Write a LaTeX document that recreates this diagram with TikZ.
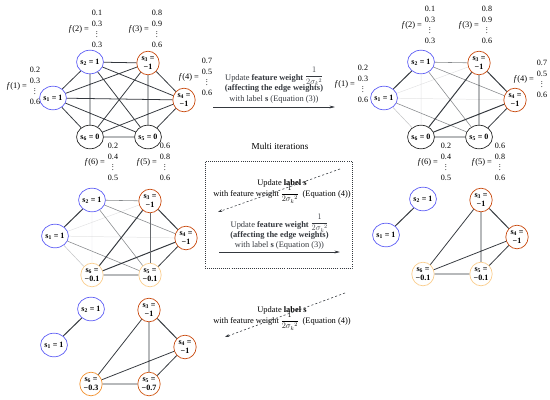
\documentclass[tikz,border=0pt]{standalone}
\usepackage{amsmath}
\usepackage{fontspec}
\setmainfont{Liberation Serif}
\usetikzlibrary{arrows.meta, positioning, shapes.geometric, fit}
\definecolor{stateblue}{RGB}{95, 95, 245}
\definecolor{stateorange}{RGB}{200, 72, 12}
\definecolor{statepeach}{RGB}{250, 205, 140}
\definecolor{stateamber}{RGB}{242, 145, 45}
\definecolor{staterust}{RGB}{208, 88, 20}
\definecolor{statedark}{RGB}{40, 40, 40}
\definecolor{edgegray}{RGB}{52, 56, 62}
\newcommand{\featw}{\smash{$\dfrac{1}{2{\sigma_k}^{2}}$}}
\newcommand{\featwup}{\raisebox{3pt}{\featw}}
\newcommand{\vdotsnum}{\vbox to 0.8em{\baselineskip=3.3pt\lineskiplimit=0pt\vss\hbox{.}\hbox{.}\hbox{.}}}

\begin{document}
\begin{tikzpicture}[
    x=0.05cm, y=-0.05cm,
    state/.style={ellipse, draw, line width=1pt, minimum width=1.12cm, minimum height=1.18cm,
        inner sep=0pt, align=center, font=\fontsize{11.5}{13}\selectfont\bfseries},
    stateA/.style={state, draw=stateblue},
    stateB/.style={state, draw=stateorange},
    stateC/.style={state, draw=statedark},
    stateD/.style={state, draw=statepeach},
    stateE/.style={state, draw=stateamber},
    stateF/.style={state, draw=staterust},
    fname/.style={font=\fontsize{12}{14}\selectfont, inner sep=1pt},
    fvals/.style={align=center, font=\fontsize{11.5}{15.5}\selectfont, inner sep=0pt},
    heavyedge/.style={line width=1.4pt, edgegray},
    darkedge/.style={line width=1.1pt, edgegray},
    midedge/.style={line width=0.8pt, edgegray!60},
    lightedge/.style={line width=0.7pt, edgegray!30},
    faintedge/.style={line width=0.7pt, edgegray!14},
    updtext/.style={align=center, font=\fontsize{12}{14.5}\selectfont},
    update/.style={line width=0.8pt, edgegray, -{Stealth[length=2.8mm, width=1.4mm]}},
    relabel/.style={line width=0.8pt, edgegray, dashed, -{Stealth[length=2.2mm, width=1.5mm]}},
    loopframe/.style={draw=edgegray, line width=0.9pt, dotted}
]
\useasboundingbox (0,0) rectangle (550,400);

% Initial graph
\begin{scope}
    \node[stateA] (a1) at (53,98) {s\textsubscript{1} = 1};
    \node[stateA] (a2) at (90,62) {s\textsubscript{2} = 1};
    \node[stateB] (a3) at (148,63) {s\textsubscript{3} =\\−1};
    \node[stateB] (a4) at (184,100) {s\textsubscript{4} =\\−1};
    \node[stateC] (a5) at (148,137) {s\textsubscript{5} = 0};
    \node[stateC] (a6) at (90,137) {s\textsubscript{6} = 0};

    \draw[darkedge] (a1) -- (a2) (a2) -- (a3) (a3) -- (a4) (a4) -- (a5) (a5) -- (a6) (a6) -- (a1);
    \draw[darkedge] (a1) -- (a3) (a1) -- (a4) (a1) -- (a5) (a2) -- (a4) (a2) -- (a5) (a2) -- (a6);
    \draw[darkedge] (a3) -- (a5) (a3) -- (a6) (a4) -- (a6);

    \node[fvals] (fa1) at (35,86) {0.2\\0.3\\\vdotsnum\\0.6};
    \node[fname, left=1mm of fa1] (la1) {\textit{f}(1) =};
    \node[fvals] (fa2) at (97,29) {0.1\\0.3\\\vdotsnum\\0.3};
    \node[fname, left=1mm of fa2] (la2) {\textit{f}(2) =};
    \node[fvals] (fa3) at (157,29) {0.8\\0.9\\\vdotsnum\\0.6};
    \node[fname, left=1mm of fa3] (la3) {\textit{f}(3) =};
    \node[fvals] (fa4) at (207,77) {0.7\\0.5\\\vdotsnum\\0.6};
    \node[fname, left=1mm of fa4] (la4) {\textit{f}(4) =};
    \node[fvals] (fa5) at (165,162) {0.6\\0.8\\\vdotsnum\\0.6};
    \node[fname, left=1mm of fa5] (la5) {\textit{f}(5) =};
    \node[fvals] (fa6) at (113,162) {0.2\\0.4\\\vdotsnum\\0.5};
    \node[fname, left=1mm of fa6] (la6) {\textit{f}(6) =};
\end{scope}

% Weighted graph
\begin{scope}[shift={(331,0)}]
    \node[stateA] (b1) at (53,98) {s\textsubscript{1} = 1};
    \node[stateA] (b2) at (90,62) {s\textsubscript{2} = 1};
    \node[stateB] (b3) at (148,63) {s\textsubscript{3} =\\−1};
    \node[stateB] (b4) at (184,100) {s\textsubscript{4} =\\−1};
    \node[stateC] (b5) at (148,137) {s\textsubscript{5} = 0};
    \node[stateC] (b6) at (90,137) {s\textsubscript{6} = 0};

    \draw[faintedge] (b1) -- (b4) (b1) -- (b3) (b2) -- (b6);
    \draw[lightedge] (b1) -- (b6);
    \draw[midedge] (b2) -- (b3) (b1) -- (b5) (b2) -- (b5) (b2) -- (b4);
    \draw[darkedge] (b4) -- (b5);
    \draw[heavyedge] (b1) -- (b2) (b3) -- (b4) (b5) -- (b6) (b3) -- (b6) (b4) -- (b6) (b3) -- (b5);

    \node[fvals] (fb1) at (32,84) {0.2\\0.3\\\vdotsnum\\0.6};
    \node[fname, left=1mm of fb1] (lb1) {\textit{f}(1) =};
    \node[fvals] (fb2) at (99,25) {0.1\\0.3\\\vdotsnum\\0.3};
    \node[fname, left=1mm of fb2] (lb2) {\textit{f}(2) =};
    \node[fvals] (fb3) at (156,25) {0.8\\0.9\\\vdotsnum\\0.6};
    \node[fname, left=1mm of fb3] (lb3) {\textit{f}(3) =};
    \node[fvals] (fb4) at (211,79) {0.7\\0.5\\\vdotsnum\\0.6};
    \node[fname, left=1mm of fb4] (lb4) {\textit{f}(4) =};
    \node[fvals] (fb5) at (169,162) {0.6\\0.8\\\vdotsnum\\0.6};
    \node[fname, left=1mm of fb5] (lb5) {\textit{f}(5) =};
    \node[fvals] (fb6) at (115,162) {0.2\\0.4\\\vdotsnum\\0.5};
    \node[fname, left=1mm of fb6] (lb6) {\textit{f}(6) =};
\end{scope}

% Weighted graph, labels updated
\begin{scope}[shift={(2,138)}]
    \node[stateA] (c1) at (53,98) {s\textsubscript{1} = 1};
    \node[stateA] (c2) at (90,62) {s\textsubscript{2} = 1};
    \node[stateB] (c3) at (148,63) {s\textsubscript{3} =\\−1};
    \node[stateB] (c4) at (184,100) {s\textsubscript{4} =\\−1};
    \node[stateD] (c5) at (148,137) {s\textsubscript{5} =\\−0.1};
    \node[stateD] (c6) at (90,137) {s\textsubscript{6} =\\−0.1};

    \draw[faintedge] (c1) -- (c4) (c1) -- (c3) (c2) -- (c6);
    \draw[lightedge] (c1) -- (c6);
    \draw[midedge] (c2) -- (c3) (c1) -- (c5) (c2) -- (c5) (c2) -- (c4);
    \draw[darkedge] (c4) -- (c5);
    \draw[heavyedge] (c1) -- (c2) (c3) -- (c4) (c5) -- (c6) (c3) -- (c6) (c4) -- (c6);
    \draw[heavyedge, edgegray!75] (c3) -- (c5);
\end{scope}

% Pruned graph
\begin{scope}[shift={(333,137)}]
    \node[stateA] (d1) at (53,98) {s\textsubscript{1} = 1};
    \node[stateA] (d2) at (90,62) {s\textsubscript{2} = 1};
    \node[stateB] (d3) at (148,63) {s\textsubscript{3} =\\−1};
    \node[stateB] (d4) at (184,100) {s\textsubscript{4} =\\−1};
    \node[stateD] (d5) at (148,137) {s\textsubscript{5} =\\−0.1};
    \node[stateD] (d6) at (90,137) {s\textsubscript{6} =\\−0.1};

    \draw[darkedge] (d3) -- (d6) (d3) -- (d5) (d4) -- (d6) (d4) -- (d5);
    \draw[heavyedge] (d1) -- (d2) (d3) -- (d4) (d5) -- (d6);
\end{scope}

% Pruned graph, labels updated
\begin{scope}[shift={(1,247)}]
    \node[stateA] (e1) at (53,98) {s\textsubscript{1} = 1};
    \node[stateA] (e2) at (90,62) {s\textsubscript{2} = 1};
    \node[stateB] (e3) at (148,63) {s\textsubscript{3} =\\−1};
    \node[stateB] (e4) at (184,100) {s\textsubscript{4} =\\−1};
    \node[stateF] (e5) at (148,137) {s\textsubscript{5} =\\−0.7};
    \node[stateE] (e6) at (90,137) {s\textsubscript{6} =\\−0.3};

    \draw[darkedge] (e3) -- (e6) (e3) -- (e5) (e4) -- (e6) (e4) -- (e5);
    \draw[heavyedge] (e1) -- (e2) (e3) -- (e4) (e5) -- (e6);
\end{scope}

% Feature weight update
\coordinate (upd1s) at (213,107);
\coordinate (upd1e) at (335,107);
\draw[update] (upd1s) -- (upd1e) node[midway, above=2pt, updtext] (upd1t)
    {Update \textbf{feature weight} \featwup\\\textbf{(affecting the edge weights)}\\with label \textbf{s} (Equation (3))};

% Iteration box
\node[loopframe, fit={(205,161) (352,268)}, inner sep=0pt] (loop) {};
\node[font=\fontsize{13}{15}\selectfont] (multi) at (280,146) {Multi iterations};

\node[updtext] (rel1t) at (282,189) {Update \textbf{label s}\\with feature weight \featw\ \ (Equation (4))};
\coordinate (rel1s) at (340,169);
\coordinate (rel1e) at (218,212);
\draw[relabel] (rel1s) -- (rel1e);

\coordinate (upd2s) at (219,252);
\coordinate (upd2e) at (340,252);
\draw[update] (upd2s) -- (upd2e) node[midway, above=0pt, updtext] (upd2t)
    {Update \textbf{feature weight} \featwup\\\textbf{(affecting the edge weights)}\\with label \textbf{s} (Equation (3))};

% Final label update
\node[updtext] (rel2t) at (282,316) {Update \textbf{label s}\\with feature weight \featw\ \ (Equation (4))};
\coordinate (rel2s) at (345,293);
\coordinate (rel2e) at (225,337);
\draw[relabel] (rel2s) -- (rel2e);

\end{tikzpicture}
\end{document}
